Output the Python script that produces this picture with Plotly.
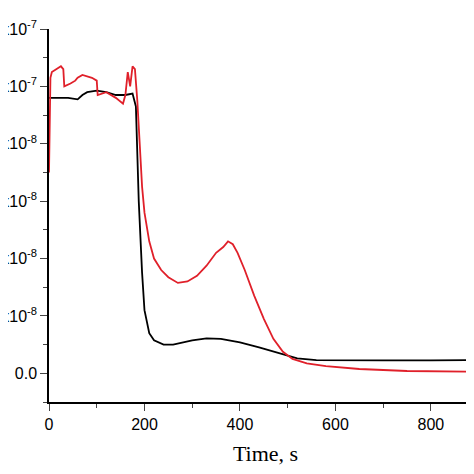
import plotly.graph_objects as go

t_black = [0, 20, 40, 60, 70, 80, 100, 120, 140, 160, 175, 182, 188, 195, 200, 210, 220, 240, 260, 300, 330, 360, 400, 440, 480, 520, 560, 600, 700, 800, 907]
v_black = [9.6e-8, 9.6e-8, 9.6e-8, 9.55e-8, 9.7e-8, 9.8e-8, 9.85e-8, 9.8e-8, 9.7e-8, 9.7e-8, 9.75e-8, 9.3e-8, 6e-8, 3.5e-8, 2.2e-8, 1.4e-8, 1.15e-8, 1.0e-8, 1.0e-8, 1.15e-8, 1.22e-8, 1.2e-8, 1.08e-8, 0.9e-8, 0.7e-8, 0.52e-8, 0.46e-8, 0.45e-8, 0.45e-8, 0.45e-8, 0.46e-8]

t_red = [0, 3, 6, 15, 25, 30, 32, 45, 55, 60, 70, 90, 100, 102, 120, 140, 155, 160, 165, 170, 175, 180, 185, 190, 195, 200, 210, 220, 235, 250, 270, 290, 310, 330, 350, 365, 375, 385, 395, 410, 430, 450, 470, 490, 510, 540, 580, 650, 750, 907]
v_red = [7e-8, 1.03e-7, 1.05e-7, 1.06e-7, 1.07e-7, 1.06e-7, 1.0e-7, 1.01e-7, 1.02e-7, 1.03e-7, 1.04e-7, 1.03e-7, 1.02e-7, 9.7e-8, 9.8e-8, 9.6e-8, 9.4e-8, 9.7e-8, 1.05e-7, 1.0e-7, 1.07e-7, 1.06e-7, 9.5e-8, 8e-8, 6.5e-8, 5.6e-8, 4.6e-8, 4e-8, 3.6e-8, 3.35e-8, 3.15e-8, 3.2e-8, 3.4e-8, 3.75e-8, 4.2e-8, 4.4e-8, 4.6e-8, 4.5e-8, 4.2e-8, 3.6e-8, 2.7e-8, 1.9e-8, 1.2e-8, 0.75e-8, 0.5e-8, 0.35e-8, 0.25e-8, 0.15e-8, 0.08e-8, 0.05e-8]

y_ticks = [0, 2e-8, 4e-8, 6e-8, 8e-8, 1e-7, 1.2e-7]
y_labels = ["0.0", "2.0x10<sup>-8</sup>", "4.0x10<sup>-8</sup>", "6.0x10<sup>-8</sup>",
            "8.0x10<sup>-8</sup>", "1.0x10<sup>-7</sup>", "1.2x10<sup>-7</sup>"]

fig = go.Figure()
fig.add_trace(go.Scatter(x=t_black, y=v_black, mode="lines", line=dict(color="black", width=1.8)))
fig.add_trace(go.Scatter(x=t_red, y=v_red, mode="lines", line=dict(color="#e0202a", width=1.8)))

fig.update_layout(
    width=474, height=474, showlegend=False,
    paper_bgcolor="white", plot_bgcolor="white",
    margin=dict(l=41, r=0, t=21, b=80),
    font=dict(family="Arial, Liberation Sans", size=16, color="black"),
    xaxis=dict(range=[0, 907], tickvals=[0, 200, 400, 600, 800], ticks="outside",
               minor=dict(ticks="outside", dtick=100, ticklen=4), ticklen=7, automargin=False,
               showline=True, linecolor="black", linewidth=1.5, showgrid=False, zeroline=False,
               title=dict(text="Time, s", font=dict(family="Liberation Serif", size=22), standoff=14)),
    yaxis=dict(range=[-1e-8, 1.2e-7], tickvals=y_ticks, ticktext=y_labels, ticks="outside",
               minor=dict(ticks="outside", dtick=1e-8, ticklen=4), ticklen=7, automargin=False,
               showline=True, linecolor="black", linewidth=1.5, showgrid=False, zeroline=False),
)

fig.write_html("out.html")
